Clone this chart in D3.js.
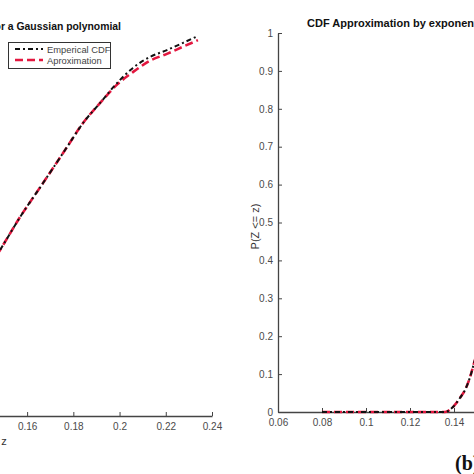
<!DOCTYPE html>
<html>
<head>
<meta charset="utf-8">
<script src="https://cdn.jsdelivr.net/npm/d3@7/dist/d3.min.js"></script>
<style>
  html, body { margin: 0; padding: 0; background: #fff; }
  svg { display: block; }
  .tick text { font-family: "Liberation Sans", Arial, sans-serif; font-size: 10px; fill: #4a4a4a; }
</style>
</head>
<body>
<div id="chart"></div>
<script>
// ---------- data ----------
// Left panel: Gaussian polynomial CDF (z values and probabilities)
const leftZ          = [0.08, 0.10, 0.12, 0.14, 0.1483, 0.1570, 0.1669, 0.1773, 0.1842, 0.1916, 0.1989, 0.2058, 0.2132, 0.2205, 0.2275, 0.2339];
const leftEmpirical  = [0.00, 0.06, 0.20, 0.36, 0.437, 0.524, 0.613, 0.708, 0.771, 0.824, 0.876, 0.916, 0.945, 0.963, 0.982, 1.000];
const leftApprox     = [0.00, 0.06, 0.20, 0.36, 0.437, 0.524, 0.613, 0.708, 0.771, 0.824, 0.872, 0.905, 0.935, 0.953, 0.972, 0.989];
// Right panel: exponential polynomial CDF
const rightZ         = [0.08, 0.09, 0.10, 0.11, 0.12, 0.13, 0.1359, 0.1395, 0.1427, 0.1450, 0.1473, 0.1491, 0.155, 0.16];
const rightEmpirical = [0.00, 0.00, 0.00, 0.00, 0.00, 0.00, 0.000, 0.013, 0.037, 0.058, 0.092, 0.129, 0.25, 0.40];
const rightApprox    = [0.00, 0.00, 0.00, 0.00, 0.00, 0.00, 0.000, 0.013, 0.037, 0.058, 0.092, 0.129, 0.25, 0.40];
// tick labels
const leftXTicks  = [0.06, 0.08, 0.10, 0.12, 0.14, 0.16, 0.18, 0.20, 0.22, 0.24];
const rightXTicks = [0.06, 0.08, 0.10, 0.12, 0.14, 0.16, 0.18, 0.20];
const rightYTicks = [0, 0.1, 0.2, 0.3, 0.4, 0.5, 0.6, 0.7, 0.8, 0.9, 1];
const legendLabels = ["Emperical CDF", "Aproximation"];
const titles = ["CDF Approximation for a Gaussian polynomial", "CDF Approximation by exponential polynomial"];

// ---------- drawing ----------
const W = 474, H = 474;
const svg = d3.select("#chart").append("svg").attr("width", W).attr("height", H);
const font = '"Liberation Sans", Arial, sans-serif';
const red = "#e3173f";
const axisColor = "#444";
const fmt = v => String(+v.toFixed(2));

const xL = d3.scaleLinear().domain([0.06, 0.24]).range([-204, 212]);
const yL = d3.scaleLinear().domain([0, 1]).range([416, 36]);
const xR = d3.scaleLinear().domain([0.06, 0.20]).range([278, 586]);
const yR = d3.scaleLinear().domain([0, 1]).range([412, 33]);

function styleAxis(g) {
  g.select(".domain").attr("stroke", axisColor).attr("stroke-width", 1.3);
  g.selectAll(".tick line").attr("stroke", axisColor).attr("stroke-width", 1);
}

// Left panel axes
svg.append("g").attr("transform", `translate(0,${yL(0)})`)
  .call(d3.axisBottom(xL).tickValues(leftXTicks).tickFormat(fmt).tickSize(-4).tickSizeOuter(0).tickPadding(7))
  .call(styleAxis);
svg.append("text").attr("x", xL(0.15)).attr("y", 445).attr("text-anchor", "middle")
  .attr("font-family", font).attr("font-size", 11).attr("fill", "#333").text("z");
svg.append("text").attr("x", 121).attr("y", 30).attr("text-anchor", "end")
  .attr("font-family", font).attr("font-size", 10.4).attr("font-weight", "bold").attr("fill", "#111").text(titles[0]);

// Right panel axes
svg.append("g").attr("transform", `translate(0,${yR(0)})`)
  .call(d3.axisBottom(xR).tickValues(rightXTicks).tickFormat(fmt).tickSize(-4).tickSizeOuter(0).tickPadding(7))
  .call(styleAxis);
svg.append("g").attr("transform", `translate(${xR(0.06)},0)`)
  .call(d3.axisLeft(yR).tickValues(rightYTicks).tickFormat(fmt).tickSize(-4).tickSizeOuter(0).tickPadding(5))
  .call(styleAxis);
svg.append("text").attr("transform", `translate(259,${(yR(0) + yR(1)) / 2 + 4}) rotate(-90)`)
  .attr("text-anchor", "middle").attr("font-family", font).attr("font-size", 11).attr("fill", "#333")
  .text("P(Z <= z)");
svg.append("text").attr("x", 307).attr("y", 27).attr("text-anchor", "start")
  .attr("font-family", font).attr("font-size", 11).attr("font-weight", "bold").attr("fill", "#111").text(titles[1]);

// Lines
function drawPair(xs, emp, apx, x, y) {
  const line = d3.line().x(d => x(d[0])).y(d => y(d[1])).curve(d3.curveMonotoneX);
  svg.append("path").datum(xs.map((v, i) => [v, apx[i]])).attr("d", line)
    .attr("fill", "none").attr("stroke", red).attr("stroke-width", 2.6).attr("stroke-dasharray", "8,4");
  svg.append("path").datum(xs.map((v, i) => [v, emp[i]])).attr("d", line)
    .attr("fill", "none").attr("stroke", "#111").attr("stroke-width", 2).attr("stroke-dasharray", "5,3,2,3");
}
drawPair(leftZ, leftEmpirical, leftApprox, xL, yL);
drawPair(rightZ, rightEmpirical, rightApprox, xR, yR);

// Legend
const lg = svg.append("g");
lg.append("rect").attr("x", 8.5).attr("y", 42.5).attr("width", 102).attr("height", 26)
  .attr("fill", "#fff").attr("stroke", "#333").attr("stroke-width", 1);
lg.append("line").attr("x1", 15).attr("x2", 43).attr("y1", 49).attr("y2", 49)
  .attr("stroke", "#111").attr("stroke-width", 2).attr("stroke-dasharray", "5,3,2,3");
lg.append("line").attr("x1", 15).attr("x2", 43).attr("y1", 60).attr("y2", 60)
  .attr("stroke", red).attr("stroke-width", 2.6).attr("stroke-dasharray", "8,4");
lg.selectAll("text.lab").data(legendLabels).enter().append("text").attr("class", "lab")
  .attr("x", 47).attr("y", (d, i) => 52.5 + i * 11)
  .attr("font-family", font).attr("font-size", 9.4).attr("fill", "#444").text(d => d);

// Panel tag
svg.append("text").attr("x", 455).attr("y", 470).attr("font-family", '"Liberation Serif", "Times New Roman", serif')
  .attr("font-size", 20).attr("font-weight", "bold").attr("fill", "#111").text("(b)");
</script>
</body>
</html>
